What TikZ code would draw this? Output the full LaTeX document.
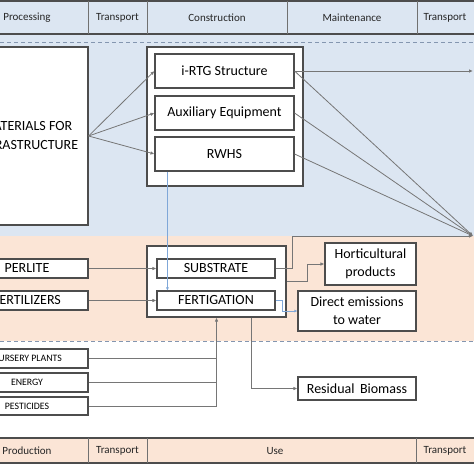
\documentclass[tikz,border=0pt]{standalone}
\usepackage{fontspec}
\setmainfont{Carlito}
\usetikzlibrary{arrows.meta}
\definecolor{skyfill}{HTML}{DCE6F2}
\definecolor{peachfill}{HTML}{FBE5D6}
\definecolor{edgegray}{HTML}{4D4D4D}
\definecolor{wiregray}{HTML}{767676}
\definecolor{waterblue}{HTML}{7FA7D8}
\definecolor{dashgray}{HTML}{8496B0}
\tikzset{
  box/.style={draw=edgegray, line width=1.1pt, fill=white, inner sep=0pt, font=\fontsize{14}{17}\selectfont},
  inbox/.style={box, font=\fontsize{9.8}{11}\selectfont},
  stage/.style={font=\fontsize{11}{12}\selectfont, text=black!85},
  rowline/.style={draw=edgegray, line width=1.6pt},
  sepline/.style={draw=edgegray!80, line width=0.8pt},
  divider/.style={draw=dashgray, line width=1pt, dash pattern=on 4pt off 3pt},
  arr/.style={draw=wiregray, line width=0.8pt, -{Latex[length=4pt,width=3.5pt]}, color=wiregray},
  wire/.style={draw=wiregray, line width=0.8pt},
  waterarr/.style={draw=waterblue, line width=0.8pt, -{Latex[length=3pt,width=3pt]}}
}
\begin{document}
\begin{tikzpicture}[x=1pt,y=-1pt]
    \useasboundingbox (0,0) rectangle (474,474);
    \clip (0,0) rectangle (474,474);
    % coloured bands
    \fill[skyfill] (0,34) rectangle (474,236);
    \fill[peachfill] (0,236) rectangle (474,341);
    \draw[divider] (0,42) -- (474,42);
    \draw[divider] (0,341) -- (474,341);
    % top stage row
    \draw[rowline, fill=skyfill] (-5,1) rectangle (480,34);
    \foreach \x in {88,147,287,417} \draw[sepline] (\x,1) -- (\x,34);
    \node[stage] (hProc) at (27,18) {Processing};
    \node[stage] (hTrA) at (117.5,18) {Transport};
    \node[stage] (hCons) at (217,18) {Construction};
    \node[stage] (hMaint) at (352,18) {Maintenance};
    \node[stage] (hTrB) at (445,18) {Transport};
    % bottom stage row
    \draw[rowline, fill=peachfill] (-5,438) rectangle (480,463);
    \foreach \x in {88,147,416} \draw[sepline] (\x,438) -- (\x,463);
    \node[stage] (bProd) at (27,451) {Production};
    \node[stage] (bTrA) at (117.5,451) {Transport};
    \node[stage] (bUse) at (275,451) {Use};
    \node[stage] (bTrB) at (445,451) {Transport};
    % infrastructure
    \node[box, minimum width=122, minimum height=178, align=center, font=\fontsize{14}{19}\selectfont] (mat) at (27,136) {MATERIALS FOR\\INFRASTRUCTURE};
    \node[box, minimum width=156, minimum height=139] (cons) at (225,116.5) {};
    \node[box, minimum width=139, minimum height=34] (rtg) at (224.5,71) {i-RTG Structure};
    \node[box, minimum width=139, minimum height=34] (aux) at (224.5,113) {Auxiliary Equipment};
    \node[box, minimum width=139, minimum height=34] (rwhs) at (224.5,154) {RWHS};
    \coordinate (out) at (473,71);
    \coordinate (sink) at (473,236);
    \draw[arr] (mat.east) -- (rtg.west);
    \draw[arr] (mat.east) -- (aux.west);
    \draw[arr] (mat.east) -- (rwhs.west);
    \draw[arr] (rtg.east) -- (out);
    \draw[arr] (rtg.east) -- (sink);
    \draw[arr] (aux.east) -- (sink);
    \draw[arr] (rwhs.east) -- (sink);
    % use phase
    \node[box, minimum width=139, minimum height=71] (use) at (216.5,281.5) {};
    \node[box, minimum width=118, minimum height=19] (sub) at (216,268.5) {SUBSTRATE};
    \node[box, minimum width=118, minimum height=19] (fert) at (216,300.5) {FERTIGATION};
    \node[box, minimum width=122, minimum height=19] (perl) at (27,268.5) {PERLITE};
    \node[box, minimum width=122, minimum height=19] (fertz) at (27,300.5) {FERTILIZERS};
    \node[box, minimum width=91, minimum height=42, align=center, font=\fontsize{14}{18}\selectfont] (hort) at (370.5,264) {Horticultural\\products};
    \node[box, minimum width=118, minimum height=40, align=center, font=\fontsize{14}{18}\selectfont] (emis) at (357,311) {Direct emissions\\to water};
    \node[box, minimum width=118, minimum height=23] (resid) at (357,388.5) {Residual\, Biomass};
    \node[inbox, minimum width=122, minimum height=19] (nurs) at (27,358.5) {NURSERY PLANTS};
    \node[inbox, minimum width=122, minimum height=19] (energy) at (27,382.5) {ENERGY};
    \node[inbox, minimum width=122, minimum height=18] (pest) at (27,406) {PESTICIDES};
    \draw[waterarr] ([xshift=11pt]fert.north west |- rwhs.south) -- ([xshift=11pt]fert.north west);
    \draw[arr] (perl.east) -- (sub.west);
    \draw[arr] (fertz.east) -- (fert.west);
    \draw[arr] (sub.east) -- ++(17,0) |- (sink);
    \draw[arr] (use.east) -- ++(21,0) |- (hort.west);
    \draw[waterarr] (fert.east) -- ++(7,0) |- (emis.west);
    \draw[arr] ([xshift=35pt]use.south) |- (resid.west);
    \draw[wire] (nurs.east) -- (nurs.east -| use.south);
    \draw[wire] (energy.east) -- (energy.east -| use.south);
    \draw[arr] (pest.east) -| (use.south);
\end{tikzpicture}
\end{document}
